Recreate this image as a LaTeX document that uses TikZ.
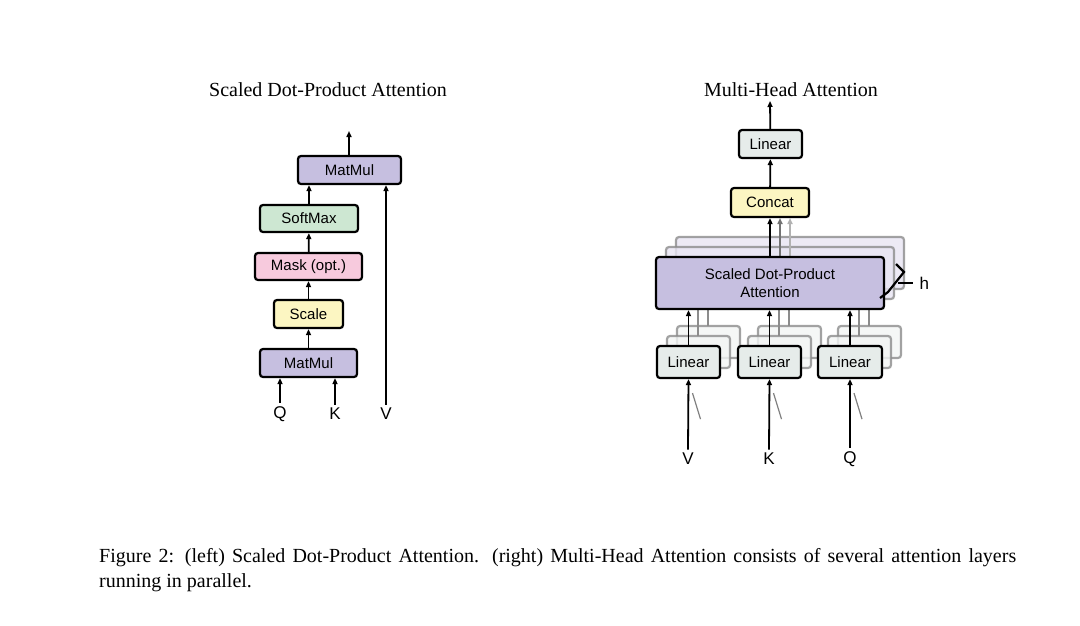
\documentclass[tikz,border=0pt]{standalone}
\usepackage{fontspec}
\setmainfont{Liberation Serif}
\newfontfamily\sans{Liberation Sans}
\usetikzlibrary{arrows.meta}
\definecolor{lav}{HTML}{C6BFE0}
\definecolor{grn}{HTML}{CDE7D2}
\definecolor{pnk}{HTML}{F7CADD}
\definecolor{yel}{HTML}{FCF6C2}
\definecolor{lgr}{HTML}{E6ECEA}
\begin{document}
\begin{tikzpicture}[x=1pt,y=-1pt,
  box/.style={draw=black,line width=2.2pt,rounded corners=3pt,font=\sans\fontsize{15}{17}\selectfont,inner sep=0pt,align=center},
  ghost/.style={draw=black!45,line width=2.2pt,rounded corners=3pt,fill=#1,opacity=0.8},
  arr/.style={-{Triangle[length=6pt,width=5pt]},line width=1.8pt},
  lbl/.style={font=\sans\fontsize{17}{19}\selectfont},
  ttl/.style={font=\fontsize{20}{22}\selectfont}]
\useasboundingbox (0,0) rectangle (1080,625);
% left
\node[ttl] (t1) at (328,90) {Scaled Dot-Product Attention};
\node[box,fill=lav,minimum width=103pt,minimum height=28pt] (mm2) at (349.5,170) {MatMul};
\node[box,fill=grn,minimum width=98pt,minimum height=27pt] (sm) at (309,218.5) {SoftMax};
\node[box,fill=pnk,minimum width=107pt,minimum height=27pt] (mk) at (308.5,266.5) {Mask (opt.)};
\node[box,fill=yel,minimum width=69pt,minimum height=28pt] (sc) at (308.5,314) {Scale};
\node[box,fill=lav,minimum width=97pt,minimum height=28pt] (mm1) at (308.5,363) {MatMul};
\node[lbl] (q) at (280,414) {Q};
\node[lbl] (k) at (335,414) {K};
\node[lbl] (v) at (386,414) {V};
\coordinate (o1) at (349,131);
\draw[arr] (q.north) -- (q.north|-mm1.south);
\draw[arr] (k.north) -- (k.north|-mm1.south);
\draw[arr] (v.north) -- (v.north|-mm2.south);
\draw[arr] (mm1) -- (sc);
\draw[arr] (sc) -- (mk);
\draw[arr] (mk) -- (sm);
\draw[arr] (sm) -- (sm.north|-mm2.south);
\draw[arr] (mm2.north-|o1) -- (o1);
% right
\node[ttl] (t2) at (791,90) {Multi-Head Attention};
% ghosts
\foreach \d/\c in {20/black!4,10/black!8}{
  \draw[ghost=lav!40] (656+\d,257-\d) rectangle (884+\d,309-\d);
  \foreach \x in {657,738,818}{
    \draw[ghost=lgr!50] (\x+\d,346-\d) rectangle (\x+63+\d,378-\d);
    \draw[line width=2pt,black!45] (\x+31+\d,346-\d) -- (\x+31+\d,309-\d);
  }
}
\draw[-{Triangle[length=6pt,width=5pt]},line width=1.8pt,black!30] (790,257) -- (790,218);
\draw[-{Triangle[length=6pt,width=5pt]},line width=1.8pt,black!55] (780,257) -- (780,218);
\node[box,fill=lgr,minimum width=63pt,minimum height=28pt] (lo) at (770.5,144) {Linear};
\node[box,fill=yel,minimum width=78pt,minimum height=29pt] (cc) at (770,202.5) {Concat};
\node[box,fill=lav,minimum width=228pt,minimum height=52pt] (sd) at (770,283) {Scaled Dot-Product\\[1pt]Attention};
\node[box,fill=lgr,minimum width=63pt,minimum height=32pt] (l1) at (688.5,362) {Linear};
\node[box,fill=lgr,minimum width=63pt,minimum height=32pt] (l2) at (769.5,362) {Linear};
\node[box,fill=lgr,minimum width=64pt,minimum height=32pt] (l3) at (850,362) {Linear};
\node[lbl] (iv) at (688,459) {V};
\node[lbl] (ik) at (769,459) {K};
\node[lbl] (iq) at (850,459) {Q};
\coordinate (o2) at (770,101);
\foreach \a/\b in {iv/l1,ik/l2,iq/l3}{
  \draw[line width=1.2pt,black!50] ([xshift=4pt,yshift=-14pt]\b.south) -- ([xshift=12pt,yshift=-40pt]\b.south);
  \draw[arr] (\a.north) -- (\b.south);
  \draw[arr] (\b.north) -- (\b.north|-sd.south);
}
\draw[arr] (sd.north-|cc) -- (cc.south);
\draw[arr] (cc) -- (lo);
\draw[arr] (lo) -- (o2);
% h bracket
\draw[line width=2.2pt] (896,264) -- (904,272) -- (888,292) -- (880,298);
\draw[line width=1.2pt] (898,283) -- (913,283);
\node[lbl,anchor=west] (h) at (916,283) {h};
% caption
\node[anchor=north west,text width=917pt,align=justify,inner sep=0pt,font=\fontsize{20}{25}\selectfont] (cap) at (99,548) {Figure 2: (left) Scaled Dot-Product Attention. (right) Multi-Head Attention consists of several attention layers running in parallel.};
\end{tikzpicture}
\end{document}
